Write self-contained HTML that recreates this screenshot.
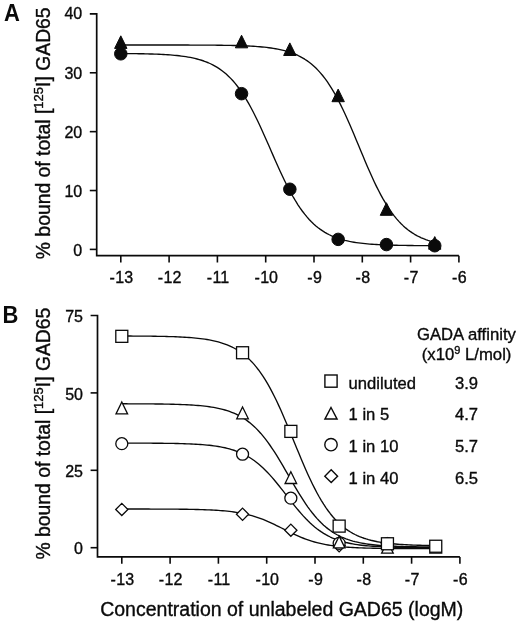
<!DOCTYPE html>
<html><head><meta charset="utf-8"><title>GAD65 displacement curves</title>
<style>
html,body{margin:0;padding:0;background:#fff;}
body{width:520px;height:623px;overflow:hidden;}
svg{display:block;font-family:"Liberation Sans",Arial,Helvetica,sans-serif;fill:#0a0a0a;}
text{stroke:#0a0a0a;stroke-width:0.35px;}
.t{font-size:16px;}
.l{font-size:16.6px;}
.h{font-size:16.7px;}
.p{font-size:22px;font-weight:bold;stroke:none;}
.y{font-size:19.35px;}
.xl{font-size:19.5px;}
</style></head><body>
<svg width="520" height="623" viewBox="0 0 520 623">
<rect width="520" height="623" fill="#fff"/>
<path d="M89.80,13.90 H96.70 V255.70 H458.90" fill="none" stroke="#0a0a0a" stroke-width="1.7" stroke-linejoin="miter"/>
<path d="M89.80,249.40 H96.70" stroke="#0a0a0a" stroke-width="1.6"/>
<path d="M89.80,190.53 H96.70" stroke="#0a0a0a" stroke-width="1.6"/>
<path d="M89.80,131.65 H96.70" stroke="#0a0a0a" stroke-width="1.6"/>
<path d="M89.80,72.78 H96.70" stroke="#0a0a0a" stroke-width="1.6"/>
<text x="82.20" y="256.00" text-anchor="end" class="t">0</text>
<text x="82.20" y="197.12" text-anchor="end" class="t">10</text>
<text x="82.20" y="138.25" text-anchor="end" class="t">20</text>
<text x="82.20" y="79.38" text-anchor="end" class="t">30</text>
<text x="82.20" y="18.80" text-anchor="end" class="t">40</text>
<path d="M120.80,255.70 V262.50" stroke="#0a0a0a" stroke-width="1.6"/>
<text x="121.30" y="282.60" text-anchor="middle" class="t">-<tspan dx="0.5">13</tspan></text>
<path d="M169.10,255.70 V262.50" stroke="#0a0a0a" stroke-width="1.6"/>
<text x="169.60" y="282.60" text-anchor="middle" class="t">-<tspan dx="0.5">12</tspan></text>
<path d="M217.40,255.70 V262.50" stroke="#0a0a0a" stroke-width="1.6"/>
<text x="217.90" y="282.60" text-anchor="middle" class="t">-<tspan dx="0.5">11</tspan></text>
<path d="M265.70,255.70 V262.50" stroke="#0a0a0a" stroke-width="1.6"/>
<text x="266.20" y="282.60" text-anchor="middle" class="t">-<tspan dx="0.5">10</tspan></text>
<path d="M314.00,255.70 V262.50" stroke="#0a0a0a" stroke-width="1.6"/>
<text x="314.50" y="282.60" text-anchor="middle" class="t">-<tspan dx="0.5">9</tspan></text>
<path d="M362.30,255.70 V262.50" stroke="#0a0a0a" stroke-width="1.6"/>
<text x="362.80" y="282.60" text-anchor="middle" class="t">-<tspan dx="0.5">8</tspan></text>
<path d="M410.60,255.70 V262.50" stroke="#0a0a0a" stroke-width="1.6"/>
<text x="411.10" y="282.60" text-anchor="middle" class="t">-<tspan dx="0.5">7</tspan></text>
<path d="M458.90,255.70 V262.50" stroke="#0a0a0a" stroke-width="1.6"/>
<text x="459.40" y="282.60" text-anchor="middle" class="t">-<tspan dx="0.5">6</tspan></text>
<path d="M120.80,44.99 L123.04,44.99 L125.29,44.99 L127.53,44.99 L129.77,44.99 L132.01,44.99 L134.25,44.99 L136.50,44.99 L138.74,44.99 L140.98,44.99 L143.22,44.99 L145.47,44.99 L147.71,44.99 L149.95,45.00 L152.20,45.00 L154.44,45.00 L156.68,45.00 L158.92,45.00 L161.16,45.00 L163.41,45.00 L165.65,45.01 L167.89,45.01 L170.14,45.01 L172.38,45.01 L174.62,45.02 L176.86,45.02 L179.11,45.02 L181.35,45.03 L183.59,45.03 L185.83,45.04 L188.07,45.04 L190.32,45.05 L192.56,45.06 L194.80,45.07 L197.05,45.08 L199.29,45.09 L201.53,45.10 L203.77,45.11 L206.01,45.12 L208.26,45.14 L210.50,45.16 L212.74,45.18 L214.98,45.20 L217.23,45.22 L219.47,45.25 L221.71,45.28 L223.96,45.31 L226.20,45.35 L228.44,45.39 L230.68,45.43 L232.92,45.48 L235.17,45.54 L237.41,45.60 L239.65,45.67 L241.89,45.75 L244.14,45.83 L246.38,45.93 L248.62,46.04 L250.87,46.15 L253.11,46.28 L255.35,46.43 L257.59,46.59 L259.83,46.77 L262.08,46.97 L264.32,47.19 L266.56,47.44 L268.81,47.71 L271.05,48.01 L273.29,48.35 L275.53,48.72 L277.77,49.13 L280.02,49.59 L282.26,50.10 L284.50,50.66 L286.74,51.28 L288.99,51.96 L291.23,52.72 L293.47,53.56 L295.72,54.48 L297.96,55.49 L300.20,56.61 L302.44,57.84 L304.69,59.19 L306.93,60.67 L309.17,62.28 L311.41,64.05 L313.66,65.98 L315.90,68.08 L318.14,70.36 L320.38,72.83 L322.62,75.50 L324.87,78.37 L327.11,81.46 L329.35,84.77 L331.59,88.30 L333.84,92.05 L336.08,96.02 L338.32,100.21 L340.56,104.61 L342.81,109.20 L345.05,113.98 L347.29,118.93 L349.53,124.02 L351.78,129.23 L354.02,134.53 L356.26,139.90 L358.50,145.31 L360.75,150.72 L362.99,156.11 L365.23,161.44 L367.47,166.69 L369.72,171.83 L371.96,176.83 L374.20,181.67 L376.44,186.34 L378.69,190.81 L380.93,195.08 L383.17,199.13 L385.42,202.96 L387.66,206.57 L389.90,209.96 L392.14,213.13 L394.38,216.09 L396.63,218.83 L398.87,221.37 L401.11,223.72 L403.35,225.88 L405.60,227.88 L407.84,229.70 L410.08,231.37 L412.32,232.90 L414.57,234.30 L416.81,235.57 L419.05,236.73 L421.30,237.78 L423.54,238.73 L425.78,239.60 L428.02,240.39 L430.26,241.10 L432.51,241.74 L434.75,242.32" fill="none" stroke="#0a0a0a" stroke-width="1.35" stroke-linejoin="round"/>
<path d="M120.80,53.50 L123.04,53.52 L125.29,53.54 L127.53,53.56 L129.77,53.58 L132.01,53.61 L134.25,53.64 L136.50,53.67 L138.74,53.71 L140.98,53.75 L143.22,53.79 L145.47,53.84 L147.71,53.90 L149.95,53.96 L152.20,54.03 L154.44,54.10 L156.68,54.19 L158.92,54.28 L161.16,54.39 L163.41,54.50 L165.65,54.63 L167.89,54.78 L170.14,54.94 L172.38,55.12 L174.62,55.31 L176.86,55.53 L179.11,55.78 L181.35,56.05 L183.59,56.35 L185.83,56.68 L188.07,57.05 L190.32,57.46 L192.56,57.91 L194.80,58.41 L197.05,58.97 L199.29,59.58 L201.53,60.26 L203.77,61.01 L206.01,61.84 L208.26,62.75 L210.50,63.75 L212.74,64.85 L214.98,66.07 L217.23,67.40 L219.47,68.85 L221.71,70.45 L223.96,72.19 L226.20,74.09 L228.44,76.15 L230.68,78.39 L232.92,80.81 L235.17,83.42 L237.41,86.24 L239.65,89.26 L241.89,92.48 L244.14,95.92 L246.38,99.57 L248.62,103.43 L250.87,107.49 L253.11,111.75 L255.35,116.18 L257.59,120.79 L259.83,125.54 L262.08,130.42 L264.32,135.41 L266.56,140.48 L268.81,145.59 L271.05,150.73 L273.29,155.87 L275.53,160.97 L277.77,166.00 L280.02,170.94 L282.26,175.77 L284.50,180.45 L286.74,184.98 L288.99,189.34 L291.23,193.50 L293.47,197.47 L295.72,201.23 L297.96,204.79 L300.20,208.13 L302.44,211.26 L304.69,214.18 L306.93,216.90 L309.17,219.43 L311.41,221.76 L313.66,223.92 L315.90,225.90 L318.14,227.73 L320.38,229.40 L322.62,230.93 L324.87,232.33 L327.11,233.60 L329.35,234.76 L331.59,235.82 L333.84,236.78 L336.08,237.65 L338.32,238.44 L340.56,239.16 L342.81,239.80 L345.05,240.39 L347.29,240.92 L349.53,241.40 L351.78,241.83 L354.02,242.22 L356.26,242.57 L358.50,242.89 L360.75,243.18 L362.99,243.43 L365.23,243.67 L367.47,243.88 L369.72,244.06 L371.96,244.23 L374.20,244.39 L376.44,244.52 L378.69,244.65 L380.93,244.76 L383.17,244.86 L385.42,244.95 L387.66,245.03 L389.90,245.10 L392.14,245.17 L394.38,245.23 L396.63,245.28 L398.87,245.33 L401.11,245.37 L403.35,245.41 L405.60,245.44 L407.84,245.47 L410.08,245.50 L412.32,245.53 L414.57,245.55 L416.81,245.57 L419.05,245.59 L421.30,245.60 L423.54,245.62 L425.78,245.63 L428.02,245.64 L430.26,245.65 L432.51,245.66 L434.75,245.67" fill="none" stroke="#0a0a0a" stroke-width="1.35" stroke-linejoin="round"/>
<path d="M120.80,35.82 L127.00,48.42 L114.60,48.42 Z" fill="#0a0a0a" stroke="#0a0a0a" stroke-width="1.0" stroke-linejoin="miter"/>
<path d="M241.55,35.23 L247.75,47.83 L235.35,47.83 Z" fill="#0a0a0a" stroke="#0a0a0a" stroke-width="1.0" stroke-linejoin="miter"/>
<path d="M289.85,42.89 L296.05,55.49 L283.65,55.49 Z" fill="#0a0a0a" stroke="#0a0a0a" stroke-width="1.0" stroke-linejoin="miter"/>
<path d="M338.15,89.10 L344.35,101.70 L331.95,101.70 Z" fill="#0a0a0a" stroke="#0a0a0a" stroke-width="1.0" stroke-linejoin="miter"/>
<path d="M386.45,202.73 L392.65,215.33 L380.25,215.33 Z" fill="#0a0a0a" stroke="#0a0a0a" stroke-width="1.0" stroke-linejoin="miter"/>
<path d="M434.75,236.58 L440.95,249.18 L428.55,249.18 Z" fill="#0a0a0a" stroke="#0a0a0a" stroke-width="1.0" stroke-linejoin="miter"/>
<circle cx="120.80" cy="53.82" r="6.25" fill="#0a0a0a" stroke="#0a0a0a" stroke-width="1.0"/>
<circle cx="241.55" cy="93.68" r="6.25" fill="#0a0a0a" stroke="#0a0a0a" stroke-width="1.0"/>
<circle cx="289.85" cy="189.23" r="6.25" fill="#0a0a0a" stroke="#0a0a0a" stroke-width="1.0"/>
<circle cx="338.15" cy="239.39" r="6.25" fill="#0a0a0a" stroke="#0a0a0a" stroke-width="1.0"/>
<circle cx="386.45" cy="244.57" r="6.25" fill="#0a0a0a" stroke="#0a0a0a" stroke-width="1.0"/>
<circle cx="434.75" cy="245.75" r="6.25" fill="#0a0a0a" stroke="#0a0a0a" stroke-width="1.0"/>
<path d="M90.60,315.50 H97.50 V556.90 H459.90" fill="none" stroke="#0a0a0a" stroke-width="1.7" stroke-linejoin="miter"/>
<path d="M90.60,547.70 H97.50" stroke="#0a0a0a" stroke-width="1.6"/>
<path d="M90.60,470.30 H97.50" stroke="#0a0a0a" stroke-width="1.6"/>
<path d="M90.60,392.90 H97.50" stroke="#0a0a0a" stroke-width="1.6"/>
<text x="83.00" y="554.40" text-anchor="end" class="t">0</text>
<text x="83.00" y="477.00" text-anchor="end" class="t">25</text>
<text x="83.00" y="399.60" text-anchor="end" class="t">50</text>
<text x="83.00" y="321.80" text-anchor="end" class="t">75</text>
<path d="M121.80,556.90 V563.70" stroke="#0a0a0a" stroke-width="1.6"/>
<text x="122.30" y="584.90" text-anchor="middle" class="t">-<tspan dx="0.5">13</tspan></text>
<path d="M170.10,556.90 V563.70" stroke="#0a0a0a" stroke-width="1.6"/>
<text x="170.60" y="584.90" text-anchor="middle" class="t">-<tspan dx="0.5">12</tspan></text>
<path d="M218.40,556.90 V563.70" stroke="#0a0a0a" stroke-width="1.6"/>
<text x="218.90" y="584.90" text-anchor="middle" class="t">-<tspan dx="0.5">11</tspan></text>
<path d="M266.70,556.90 V563.70" stroke="#0a0a0a" stroke-width="1.6"/>
<text x="267.20" y="584.90" text-anchor="middle" class="t">-<tspan dx="0.5">10</tspan></text>
<path d="M315.00,556.90 V563.70" stroke="#0a0a0a" stroke-width="1.6"/>
<text x="315.50" y="584.90" text-anchor="middle" class="t">-<tspan dx="0.5">9</tspan></text>
<path d="M363.30,556.90 V563.70" stroke="#0a0a0a" stroke-width="1.6"/>
<text x="363.80" y="584.90" text-anchor="middle" class="t">-<tspan dx="0.5">8</tspan></text>
<path d="M411.60,556.90 V563.70" stroke="#0a0a0a" stroke-width="1.6"/>
<text x="412.10" y="584.90" text-anchor="middle" class="t">-<tspan dx="0.5">7</tspan></text>
<path d="M459.90,556.90 V563.70" stroke="#0a0a0a" stroke-width="1.6"/>
<text x="460.40" y="584.90" text-anchor="middle" class="t">-<tspan dx="0.5">6</tspan></text>
<path d="M121.80,509.01 L124.04,509.01 L126.29,509.01 L128.53,509.01 L130.77,509.02 L133.01,509.02 L135.25,509.02 L137.50,509.02 L139.74,509.03 L141.98,509.03 L144.22,509.03 L146.47,509.04 L148.71,509.04 L150.95,509.05 L153.20,509.05 L155.44,509.06 L157.68,509.07 L159.92,509.07 L162.16,509.08 L164.41,509.09 L166.65,509.10 L168.89,509.12 L171.14,509.13 L173.38,509.15 L175.62,509.16 L177.86,509.18 L180.11,509.21 L182.35,509.23 L184.59,509.26 L186.83,509.29 L189.07,509.32 L191.32,509.36 L193.56,509.41 L195.80,509.46 L198.05,509.51 L200.29,509.57 L202.53,509.64 L204.77,509.72 L207.01,509.80 L209.26,509.89 L211.50,510.00 L213.74,510.12 L215.98,510.25 L218.23,510.40 L220.47,510.56 L222.71,510.74 L224.96,510.94 L227.20,511.16 L229.44,511.41 L231.68,511.68 L233.92,511.98 L236.17,512.31 L238.41,512.67 L240.65,513.07 L242.89,513.51 L245.14,513.99 L247.38,514.51 L249.62,515.08 L251.87,515.69 L254.11,516.35 L256.35,517.06 L258.59,517.82 L260.83,518.63 L263.08,519.48 L265.32,520.39 L267.56,521.34 L269.81,522.33 L272.05,523.36 L274.29,524.43 L276.53,525.52 L278.77,526.63 L281.02,527.75 L283.26,528.88 L285.50,530.02 L287.74,531.14 L289.99,532.25 L292.23,533.34 L294.47,534.40 L296.72,535.42 L298.96,536.41 L301.20,537.35 L303.44,538.25 L305.69,539.11 L307.93,539.91 L310.17,540.66 L312.41,541.36 L314.66,542.02 L316.90,542.62 L319.14,543.18 L321.38,543.70 L323.62,544.17 L325.87,544.61 L328.11,545.00 L330.35,545.36 L332.59,545.69 L334.84,545.98 L337.08,546.25 L339.32,546.50 L341.56,546.72 L343.81,546.91 L346.05,547.09 L348.29,547.25 L350.53,547.40 L352.78,547.53 L355.02,547.64 L357.26,547.75 L359.50,547.84 L361.75,547.92 L363.99,548.00 L366.23,548.07 L368.47,548.13 L370.72,548.18 L372.96,548.23 L375.20,548.27 L377.44,548.31 L379.69,548.34 L381.93,548.37 L384.17,548.40 L386.42,548.43 L388.66,548.45 L390.90,548.47 L393.14,548.48 L395.38,548.50 L397.63,548.51 L399.87,548.53 L402.11,548.54 L404.35,548.55 L406.60,548.56 L408.84,548.56 L411.08,548.57 L413.32,548.58 L415.57,548.58 L417.81,548.59 L420.05,548.59 L422.30,548.60 L424.54,548.60 L426.78,548.60 L429.02,548.61 L431.26,548.61 L433.51,548.61 L435.75,548.61" fill="none" stroke="#0a0a0a" stroke-width="1.35" stroke-linejoin="round"/>
<path d="M121.80,443.08 L124.04,443.09 L126.29,443.09 L128.53,443.10 L130.77,443.10 L133.01,443.11 L135.25,443.11 L137.50,443.12 L139.74,443.13 L141.98,443.14 L144.22,443.15 L146.47,443.16 L148.71,443.17 L150.95,443.18 L153.20,443.20 L155.44,443.21 L157.68,443.23 L159.92,443.25 L162.16,443.27 L164.41,443.30 L166.65,443.33 L168.89,443.36 L171.14,443.40 L173.38,443.44 L175.62,443.48 L177.86,443.53 L180.11,443.59 L182.35,443.65 L184.59,443.72 L186.83,443.80 L189.07,443.88 L191.32,443.98 L193.56,444.09 L195.80,444.21 L198.05,444.34 L200.29,444.49 L202.53,444.66 L204.77,444.84 L207.01,445.05 L209.26,445.28 L211.50,445.53 L213.74,445.82 L215.98,446.13 L218.23,446.48 L220.47,446.87 L222.71,447.30 L224.96,447.78 L227.20,448.31 L229.44,448.89 L231.68,449.53 L233.92,450.24 L236.17,451.03 L238.41,451.88 L240.65,452.83 L242.89,453.86 L245.14,454.98 L247.38,456.21 L249.62,457.54 L251.87,458.98 L254.11,460.54 L256.35,462.22 L258.59,464.03 L260.83,465.95 L263.08,468.00 L265.32,470.18 L267.56,472.47 L269.81,474.88 L272.05,477.39 L274.29,480.00 L276.53,482.70 L278.77,485.47 L281.02,488.31 L283.26,491.18 L285.50,494.08 L287.74,496.99 L289.99,499.89 L292.23,502.76 L294.47,505.58 L296.72,508.35 L298.96,511.04 L301.20,513.64 L303.44,516.14 L305.69,518.54 L307.93,520.82 L310.17,522.98 L312.41,525.02 L314.66,526.93 L316.90,528.72 L319.14,530.39 L321.38,531.93 L323.62,533.36 L325.87,534.69 L328.11,535.90 L330.35,537.02 L332.59,538.04 L334.84,538.97 L337.08,539.82 L339.32,540.59 L341.56,541.29 L343.81,541.93 L346.05,542.51 L348.29,543.03 L350.53,543.50 L352.78,543.93 L355.02,544.31 L357.26,544.66 L359.50,544.97 L361.75,545.25 L363.99,545.50 L366.23,545.73 L368.47,545.93 L370.72,546.12 L372.96,546.28 L375.20,546.43 L377.44,546.56 L379.69,546.68 L381.93,546.79 L384.17,546.88 L386.42,546.97 L388.66,547.04 L390.90,547.11 L393.14,547.17 L395.38,547.23 L397.63,547.28 L399.87,547.32 L402.11,547.36 L404.35,547.40 L406.60,547.43 L408.84,547.46 L411.08,547.48 L413.32,547.51 L415.57,547.53 L417.81,547.54 L420.05,547.56 L422.30,547.58 L424.54,547.59 L426.78,547.60 L429.02,547.61 L431.26,547.62 L433.51,547.63 L435.75,547.64" fill="none" stroke="#0a0a0a" stroke-width="1.35" stroke-linejoin="round"/>
<path d="M121.80,403.78 L124.04,403.78 L126.29,403.79 L128.53,403.80 L130.77,403.80 L133.01,403.81 L135.25,403.82 L137.50,403.83 L139.74,403.84 L141.98,403.85 L144.22,403.86 L146.47,403.88 L148.71,403.90 L150.95,403.91 L153.20,403.94 L155.44,403.96 L157.68,403.98 L159.92,404.01 L162.16,404.04 L164.41,404.08 L166.65,404.12 L168.89,404.16 L171.14,404.21 L173.38,404.27 L175.62,404.33 L177.86,404.40 L180.11,404.47 L182.35,404.56 L184.59,404.65 L186.83,404.75 L189.07,404.87 L191.32,405.00 L193.56,405.14 L195.80,405.30 L198.05,405.48 L200.29,405.68 L202.53,405.90 L204.77,406.15 L207.01,406.42 L209.26,406.72 L211.50,407.06 L213.74,407.43 L215.98,407.85 L218.23,408.30 L220.47,408.81 L222.71,409.37 L224.96,409.99 L227.20,410.68 L229.44,411.44 L231.68,412.27 L233.92,413.19 L236.17,414.20 L238.41,415.31 L240.65,416.52 L242.89,417.85 L245.14,419.30 L247.38,420.88 L249.62,422.59 L251.87,424.45 L254.11,426.46 L256.35,428.62 L258.59,430.95 L260.83,433.43 L263.08,436.08 L265.32,438.89 L267.56,441.87 L269.81,445.00 L272.05,448.27 L274.29,451.69 L276.53,455.23 L278.77,458.88 L281.02,462.62 L283.26,466.44 L285.50,470.31 L287.74,474.21 L289.99,478.11 L292.23,482.00 L294.47,485.85 L296.72,489.65 L298.96,493.35 L301.20,496.96 L303.44,500.46 L305.69,503.82 L307.93,507.04 L310.17,510.11 L312.41,513.02 L314.66,515.77 L316.90,518.36 L319.14,520.78 L321.38,523.04 L323.62,525.15 L325.87,527.10 L328.11,528.90 L330.35,530.56 L332.59,532.09 L334.84,533.49 L337.08,534.77 L339.32,535.95 L341.56,537.02 L343.81,537.99 L346.05,538.88 L348.29,539.68 L350.53,540.41 L352.78,541.07 L355.02,541.67 L357.26,542.21 L359.50,542.70 L361.75,543.14 L363.99,543.53 L366.23,543.89 L368.47,544.21 L370.72,544.51 L372.96,544.77 L375.20,545.00 L377.44,545.21 L379.69,545.41 L381.93,545.58 L384.17,545.73 L386.42,545.87 L388.66,545.99 L390.90,546.10 L393.14,546.20 L395.38,546.29 L397.63,546.38 L399.87,546.45 L402.11,546.51 L404.35,546.57 L406.60,546.62 L408.84,546.67 L411.08,546.71 L413.32,546.75 L415.57,546.79 L417.81,546.82 L420.05,546.84 L422.30,546.87 L424.54,546.89 L426.78,546.91 L429.02,546.93 L431.26,546.94 L433.51,546.96 L435.75,546.97" fill="none" stroke="#0a0a0a" stroke-width="1.35" stroke-linejoin="round"/>
<path d="M121.80,336.00 L124.04,336.01 L126.29,336.02 L128.53,336.03 L130.77,336.04 L133.01,336.05 L135.25,336.06 L137.50,336.08 L139.74,336.09 L141.98,336.11 L144.22,336.13 L146.47,336.15 L148.71,336.17 L150.95,336.20 L153.20,336.23 L155.44,336.26 L157.68,336.30 L159.92,336.34 L162.16,336.38 L164.41,336.43 L166.65,336.49 L168.89,336.55 L171.14,336.61 L173.38,336.69 L175.62,336.77 L177.86,336.86 L180.11,336.97 L182.35,337.08 L184.59,337.21 L186.83,337.35 L189.07,337.50 L191.32,337.67 L193.56,337.86 L195.80,338.07 L198.05,338.31 L200.29,338.57 L202.53,338.85 L204.77,339.17 L207.01,339.52 L209.26,339.91 L211.50,340.34 L213.74,340.81 L215.98,341.34 L218.23,341.92 L220.47,342.56 L222.71,343.27 L224.96,344.05 L227.20,344.90 L229.44,345.85 L231.68,346.88 L233.92,348.02 L236.17,349.28 L238.41,350.65 L240.65,352.15 L242.89,353.78 L245.14,355.57 L247.38,357.52 L249.62,359.63 L251.87,361.92 L254.11,364.41 L256.35,367.08 L258.59,369.97 L260.83,373.06 L263.08,376.37 L265.32,379.90 L267.56,383.66 L269.81,387.63 L272.05,391.82 L274.29,396.22 L276.53,400.82 L278.77,405.61 L281.02,410.57 L283.26,415.68 L285.50,420.92 L287.74,426.27 L289.99,431.69 L292.23,437.17 L294.47,442.66 L296.72,448.15 L298.96,453.60 L301.20,458.98 L303.44,464.26 L305.69,469.42 L307.93,474.43 L310.17,479.28 L312.41,483.95 L314.66,488.42 L316.90,492.69 L319.14,496.74 L321.38,500.57 L323.62,504.18 L325.87,507.57 L328.11,510.74 L330.35,513.70 L332.59,516.45 L334.84,519.00 L337.08,521.35 L339.32,523.53 L341.56,525.54 L343.81,527.38 L346.05,529.07 L348.29,530.62 L350.53,532.03 L352.78,533.32 L355.02,534.50 L357.26,535.57 L359.50,536.55 L361.75,537.44 L363.99,538.24 L366.23,538.97 L368.47,539.64 L370.72,540.24 L372.96,540.78 L375.20,541.27 L377.44,541.72 L379.69,542.12 L381.93,542.49 L384.17,542.82 L386.42,543.11 L388.66,543.38 L390.90,543.62 L393.14,543.84 L395.38,544.04 L397.63,544.22 L399.87,544.38 L402.11,544.52 L404.35,544.65 L406.60,544.77 L408.84,544.88 L411.08,544.97 L413.32,545.06 L415.57,545.14 L417.81,545.21 L420.05,545.27 L422.30,545.33 L424.54,545.38 L426.78,545.42 L429.02,545.47 L431.26,545.50 L433.51,545.54 L435.75,545.57" fill="none" stroke="#0a0a0a" stroke-width="1.35" stroke-linejoin="round"/>
<path d="M121.80,503.35 L127.90,509.45 L121.80,515.55 L115.70,509.45 Z" fill="#fff" stroke="#0a0a0a" stroke-width="1.3"/>
<path d="M242.55,508.15 L248.65,514.25 L242.55,520.35 L236.45,514.25 Z" fill="#fff" stroke="#0a0a0a" stroke-width="1.3"/>
<path d="M290.85,524.13 L296.95,530.23 L290.85,536.33 L284.75,530.23 Z" fill="#fff" stroke="#0a0a0a" stroke-width="1.3"/>
<path d="M339.15,539.73 L345.25,545.83 L339.15,551.93 L333.05,545.83 Z" fill="#fff" stroke="#0a0a0a" stroke-width="1.3"/>
<path d="M387.45,537.66 L393.55,543.76 L387.45,549.86 L381.35,543.76 Z" fill="#fff" stroke="#0a0a0a" stroke-width="1.3"/>
<circle cx="121.80" cy="443.67" r="6.0" fill="#fff" stroke="#0a0a0a" stroke-width="1.3"/>
<circle cx="242.55" cy="454.20" r="6.0" fill="#fff" stroke="#0a0a0a" stroke-width="1.3"/>
<circle cx="290.85" cy="498.16" r="6.0" fill="#fff" stroke="#0a0a0a" stroke-width="1.3"/>
<circle cx="339.15" cy="543.37" r="6.0" fill="#fff" stroke="#0a0a0a" stroke-width="1.3"/>
<circle cx="387.45" cy="543.77" r="6.0" fill="#fff" stroke="#0a0a0a" stroke-width="1.3"/>
<path d="M121.80,402.06 L127.60,413.86 L116.00,413.86 Z" fill="#fff" stroke="#0a0a0a" stroke-width="1.3" stroke-linejoin="miter"/>
<path d="M242.55,407.01 L248.35,418.81 L236.75,418.81 Z" fill="#fff" stroke="#0a0a0a" stroke-width="1.3" stroke-linejoin="miter"/>
<path d="M290.85,471.72 L296.65,483.52 L285.05,483.52 Z" fill="#fff" stroke="#0a0a0a" stroke-width="1.3" stroke-linejoin="miter"/>
<path d="M339.15,536.12 L344.95,547.92 L333.35,547.92 Z" fill="#fff" stroke="#0a0a0a" stroke-width="1.3" stroke-linejoin="miter"/>
<path d="M387.45,541.38 L393.25,553.18 L381.65,553.18 Z" fill="#fff" stroke="#0a0a0a" stroke-width="1.3" stroke-linejoin="miter"/>
<path d="M435.75,541.38 L441.55,553.18 L429.95,553.18 Z" fill="#fff" stroke="#0a0a0a" stroke-width="1.3" stroke-linejoin="miter"/>
<rect x="115.80" y="330.33" width="12.0" height="12.0" fill="#fff" stroke="#0a0a0a" stroke-width="1.3"/>
<rect x="236.55" y="346.74" width="12.0" height="12.0" fill="#fff" stroke="#0a0a0a" stroke-width="1.3"/>
<rect x="284.85" y="425.38" width="12.0" height="12.0" fill="#fff" stroke="#0a0a0a" stroke-width="1.3"/>
<rect x="333.15" y="520.12" width="12.0" height="12.0" fill="#fff" stroke="#0a0a0a" stroke-width="1.3"/>
<rect x="381.45" y="537.77" width="12.0" height="12.0" fill="#fff" stroke="#0a0a0a" stroke-width="1.3"/>
<rect x="429.75" y="540.24" width="12.0" height="12.0" fill="#fff" stroke="#0a0a0a" stroke-width="1.3"/>
<rect x="324.90" y="375.00" width="12.2" height="12.2" fill="#fff" stroke="#0a0a0a" stroke-width="1.4"/>
<path d="M331.00,407.47 L337.10,419.07 L324.90,419.07 Z" fill="#fff" stroke="#0a0a0a" stroke-width="1.4" stroke-linejoin="miter"/>
<circle cx="331.00" cy="444.70" r="6.2" fill="#fff" stroke="#0a0a0a" stroke-width="1.4"/>
<path d="M331.20,469.80 L337.60,476.20 L331.20,482.60 L324.80,476.20 Z" fill="#fff" stroke="#0a0a0a" stroke-width="1.4"/>
<text x="348.6" y="388.5" class="l">undiluted</text>
<text x="455.0" y="388.5" class="l">3.9</text>
<text x="348.6" y="420.4" class="l">1 in 5</text>
<text x="455.0" y="420.4" class="l">4.7</text>
<text x="348.6" y="452.2" class="l">1 in 10</text>
<text x="455.0" y="452.2" class="l">5.7</text>
<text x="348.6" y="483.6" class="l">1 in 40</text>
<text x="455.0" y="483.6" class="l">6.5</text>
<text x="466.4" y="340.0" text-anchor="middle" class="h">GADA affinity</text>
<text x="466.6" y="360.0" text-anchor="middle" class="h">(x10<tspan dy="-5.8" font-size="11">9</tspan><tspan dy="5.8"> L/mol)</tspan></text>
<text transform="translate(4.0,20.9) scale(1,1.06)" class="p">A</text>
<text transform="translate(2.6,322.8) scale(1,1.06)" class="p">B</text>
<text transform="translate(49.5,259.2) rotate(-90)" class="y">% bound of total [<tspan dy="-6.2" font-size="13">125</tspan><tspan dy="6.2">I] GAD65</tspan></text>
<text transform="translate(49.5,559.5) rotate(-90)" class="y">% bound of total [<tspan dy="-6.2" font-size="13">125</tspan><tspan dy="6.2">I] GAD65</tspan></text>
<text x="100.2" y="615.8" class="xl">Concentration of unlabeled GAD65 (logM)</text>
</svg>
</body></html>
